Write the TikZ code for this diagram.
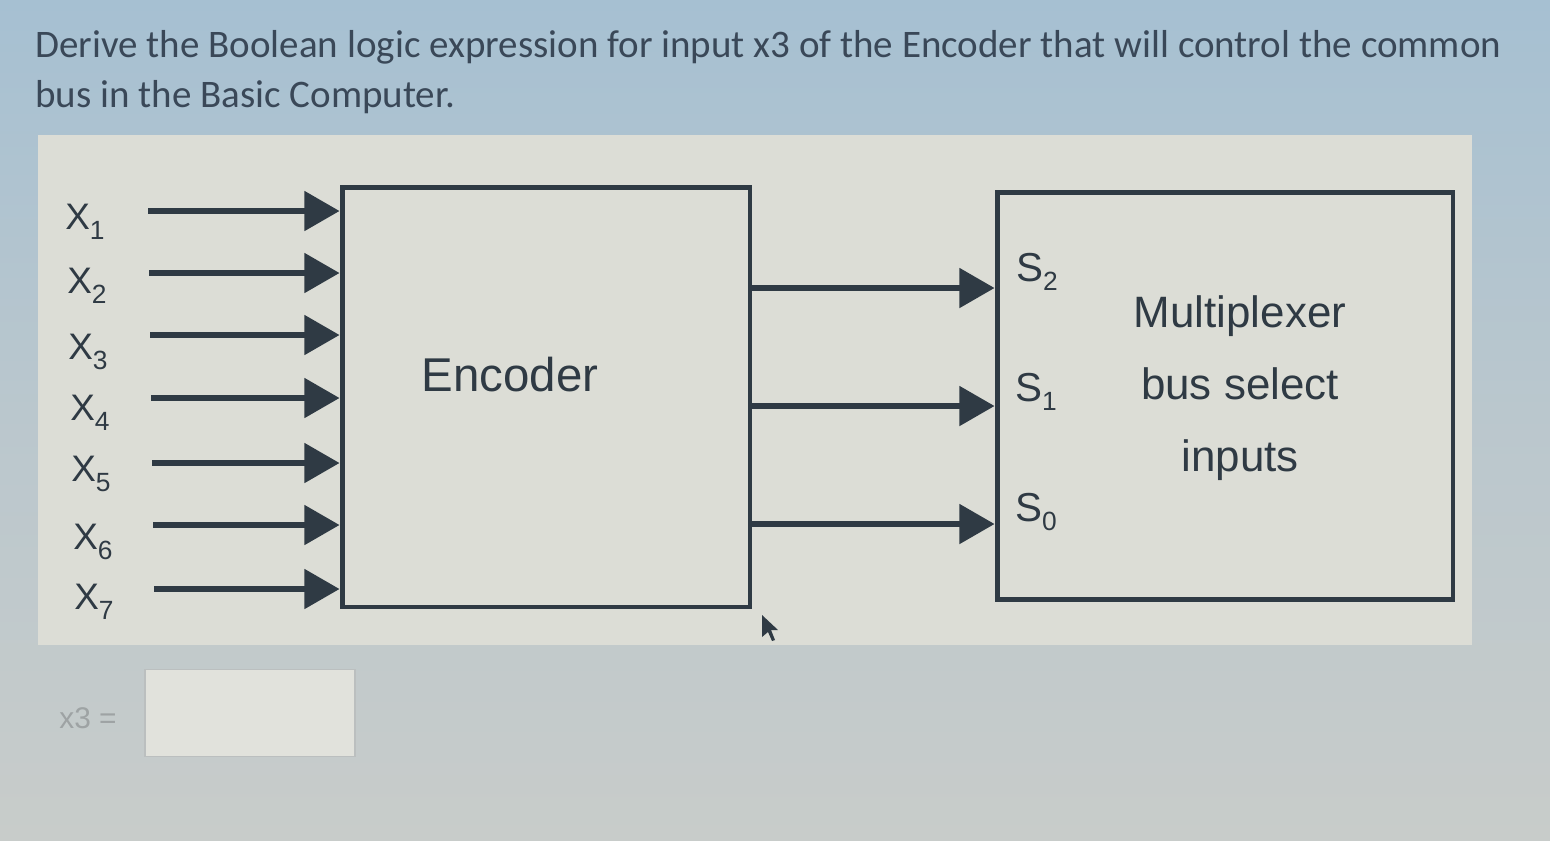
\documentclass[tikz,border=0pt]{standalone}
\usepackage{fontspec}
\setmainfont{Liberation Sans}
\newfontfamily\titlefont{Carlito}
\usepackage{xcolor}
\definecolor{inkdark}{HTML}{2F3A44}
\definecolor{titleink}{HTML}{3A4858}
\definecolor{screentop}{HTML}{A6C0D2}
\definecolor{screenbot}{HTML}{C8CCCA}
\definecolor{panelbg}{HTML}{DCDDD6}
\definecolor{fieldgray}{HTML}{9EA3A4}
\usetikzlibrary{arrows.meta,positioning,calc}
\newcommand{\lowsub}[1]{\raisebox{-5.5pt}{\fontsize{15}{15}\selectfont #1}}

\begin{document}
\begin{tikzpicture}[x=0.02cm,y=-0.02cm,>={Triangle[length=20pt,width=22pt]}]
\tikzset{
 box/.style={draw=inkdark,line width=2.8pt,fill=panelbg,inner sep=0pt},
 arrow/.style={->,line width=3.4pt,draw=inkdark},
 inlabel/.style={text=inkdark,font=\fontsize{21}{21}\selectfont},
 sellabel/.style={text=inkdark,font=\fontsize{23}{23}\selectfont,anchor=west},
 blocktext/.style={text=inkdark,align=center}
}
% screen background
\shade[top color=screentop,bottom color=screenbot,middle color=screenbot!60!screentop] (0,0) rectangle (1550,840);
\useasboundingbox (0,0) rectangle (1550,840);
\fill[panelbg] (38,135) rectangle (1472,645);

% question text
\node[anchor=base west,inner sep=0pt,align=left,text=titleink,
      font=\titlefont\fontsize{22.2}{28.4}\selectfont] (question) at (35,107)
 {Derive the Boolean logic expression for input x3 of the Encoder that will control the common\\
  bus in the Basic Computer.};

% blocks
\node[box,minimum width=8.16cm,minimum height=8.4cm] (enc) at (546,397) {};
\node[blocktext,font=\fontsize{27}{27}\selectfont] (enclabel) at (510,375) {Encoder};
\node[box,minimum width=9.12cm,minimum height=8.14cm] (mux) at (1225,396) {};
\node[blocktext,font=\fontsize{25}{41}\selectfont] (muxlabel) at (1240,388)
 {Multiplexer\\bus select\\inputs};

% encoder inputs
\node[inlabel] (x1) at (85,222) {X\lowsub{1}};
\node[inlabel] (x2) at (87,286) {X\lowsub{2}};
\node[inlabel] (x3) at (88,352) {X\lowsub{3}};
\node[inlabel] (x4) at (90,413) {X\lowsub{4}};
\node[inlabel] (x5) at (91,474) {X\lowsub{5}};
\node[inlabel] (x6) at (93,542) {X\lowsub{6}};
\node[inlabel] (x7) at (94,602) {X\lowsub{7}};
\draw[arrow] (148,211) -- (enc.west |- 0,211);
\draw[arrow] (149,273) -- (enc.west |- 0,273);
\draw[arrow] (150,335) -- (enc.west |- 0,335);
\draw[arrow] (151,398) -- (enc.west |- 0,398);
\draw[arrow] (152,463) -- (enc.west |- 0,463);
\draw[arrow] (153,525) -- (enc.west |- 0,525);
\draw[arrow] (154,589) -- (enc.west |- 0,589);

% select lines
\draw[arrow] (enc.east |- 0,288) -- (mux.west |- 0,288);
\draw[arrow] (enc.east |- 0,406) -- (mux.west |- 0,406);
\draw[arrow] (enc.east |- 0,524) -- (mux.west |- 0,524);
\node[sellabel] (s2) at (1010,272) {S\lowsub{2}};
\node[sellabel] (s1) at (1009,392) {S\lowsub{1}};
\node[sellabel] (s0) at (1009,512) {S\lowsub{0}};

% mouse pointer
\fill[inkdark] (762,615) -- (778,630) -- (771,630) -- (775,640) -- (772,641) -- (768,632) -- (762,637) -- cycle;

% answer field
\node[text=fieldgray,font=\fontsize{17}{17}\selectfont] (ansl) at (88,718) {x3 =};
\node[draw=fieldgray!70,line width=0.6pt,fill=panelbg!85!white,minimum width=4.2cm,minimum height=1.74cm,inner sep=0pt] (ans) at (250,713) {};
\end{tikzpicture}
\end{document}
